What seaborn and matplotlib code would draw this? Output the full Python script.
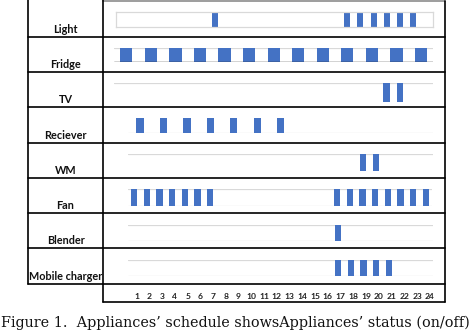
import matplotlib
matplotlib.use("Agg")
import matplotlib.pyplot as plt
from matplotlib.lines import Line2D
import seaborn as sns
import pandas as pd

# ---------------- data (on-slots per appliance, each row is its own chart) ----------------
appliances = ["Light", "Fridge", "TV", "Reciever", "WM", "Fan", "Blender", "Mobile charger"]
hours = list(range(1, 25))

light_slots = 24
light_on = [8, 18, 19, 20, 21, 22, 23]
fridge_slots = 13
fridge_on = [1, 2, 3, 4, 5, 6, 7, 8, 9, 10, 11, 12, 13]
tv_slots = 24
tv_on = [21, 22]
receiver_slots = 13
receiver_on = [1, 2, 3, 4, 5, 6, 7]
wm_slots = 24
wm_on = [19, 20]
fan_slots = 24
fan_on = [1, 2, 3, 4, 5, 6, 7, 17, 18, 19, 20, 21, 22, 23, 24]
blender_slots = 24
blender_on = [17]
charger_slots = 24
charger_on = [17, 18, 19, 20, 21]

caption = "Figure 1.  Appliances\u2019 schedule showsAppliances\u2019 status (on/off)"

# ---------------- style ----------------
sns.set_theme(style="white")
W, H = 474, 332
BLUE = "#4472C4"
GRID = "#d9d9d9"

fig = plt.figure(figsize=(W / 100, H / 100), dpi=100)
fig.patch.set_facecolor("white")


def px_axes(x0, y0, x1, y1):
    return fig.add_axes([x0 / W, 1 - y1 / H, (x1 - x0) / W, (y1 - y0) / H])


def hline(y, x0, x1, color="black", lw=1.2):
    fig.add_artist(Line2D([x0 / W, x1 / W], [1 - y / H, 1 - y / H], color=color, lw=lw,
                          transform=fig.transFigure))


def vline(x, y0, y1, color="black", lw=1.2):
    fig.add_artist(Line2D([x / W, x / W], [1 - y0 / H, 1 - y1 / H], color=color, lw=lw,
                          transform=fig.transFigure))


rows = [
    # name, slots, on, rect(px), bar width, lines
    ("Light", light_slots, light_on, (116, 12, 433, 27), 0.46, "box"),
    ("Fridge", fridge_slots, fridge_on, (114, 48.3, 433.3, 62), 0.5, "fridge"),
    ("TV", tv_slots, tv_on, (114, 82.7, 433, 101.7), 0.46, "top"),
    ("Reciever", receiver_slots, receiver_on, (128.3, 117.7, 433, 133.3), 0.31, "bottom"),
    ("WM", wm_slots, wm_on, (128.3, 154.3, 433.3, 170.7), 0.48, "top"),
    ("Fan", fan_slots, fan_on, (127.7, 189, 432.2, 205.7), 0.5, "both"),
    ("Blender", blender_slots, blender_on, (128.3, 225, 433.3, 240.7), 0.5, "both"),
    ("Mobile charger", charger_slots, charger_on, (128.3, 260, 433.3, 275.7), 0.5, "both"),
]

for name, n, on, (x0, y0, x1, y1), w, lines in rows:
    ax = px_axes(x0, y0, x1, y1)
    slots = list(range(1, n + 1))
    df = pd.DataFrame({"slot": slots, "status": [1 if s in on else 0 for s in slots]})
    sns.barplot(data=df, x="slot", y="status", color=BLUE, saturation=1, width=w,
                linewidth=0, edgecolor="none", ax=ax)
    ax.set_xlim(-0.5, n - 0.5)
    ax.set_ylim(0, 1)
    ax.set_xticks([])
    ax.set_yticks([])
    ax.set_xlabel("")
    ax.set_ylabel("")
    ax.patch.set_alpha(0)
    for s in ax.spines.values():
        s.set_visible(False)
    if lines == "box":
        for s in ax.spines.values():
            s.set_visible(True)
            s.set_color(GRID)
            s.set_linewidth(0.9)
    elif lines == "fridge":
        ax.axhline(1, color=GRID, lw=0.9, zorder=0)
        ax.axhline(0, color="#222222", lw=1.0, zorder=3)
    elif lines == "top":
        ax.axhline(1, color=GRID, lw=0.9, zorder=0)
    elif lines == "bottom":
        ax.axhline(0, color=GRID, lw=0.9, zorder=0)
    elif lines == "both":
        ax.axhline(1, color=GRID, lw=0.9, zorder=0)
        ax.axhline(0, color=GRID, lw=0.9, zorder=0)

# ---------------- bottom hour axis ----------------
axb = px_axes(130.3, 284, 436.1, 290)
axb.set_xlim(0.5, 24.5)
axb.set_ylim(0, 1)
axb.set_xticks(hours)
axb.set_xticklabels([str(h) for h in hours], fontsize=6.1, color="#222222",
                    family=["Lato", "DejaVu Sans"], fontweight="bold")
axb.tick_params(axis="x", length=0, pad=2.0)
axb.set_yticks([])
axb.patch.set_alpha(0)
for s in axb.spines.values():
    s.set_visible(False)

# ---------------- table frame ----------------
row_bottoms = [37, 72, 107, 143, 178, 213, 248, 284]
for yb in row_bottoms:
    hline(yb, 28, 445)
hline(1, 103, 445, color="#8c8c8c", lw=1.2)
hline(302, 103, 445)
vline(28, 0, 284)
vline(103, 0, 302)
vline(445, 1, 302)

# row labels
for name, yb in zip(appliances, row_bottoms):
    fig.text(65.5 / W, 1 - (yb - 3.6) / H, name, ha="center", va="baseline",
             fontsize=7.8, fontweight="bold", color="#111111",
             family=["Lato", "DejaVu Sans"])

# caption
fig.text(1 / W, 1 - 326.5 / H, caption, ha="left", va="baseline", fontsize=10.4,
         color="#111111", family=["DejaVu Serif"])

fig.savefig("out.png", dpi=100)
